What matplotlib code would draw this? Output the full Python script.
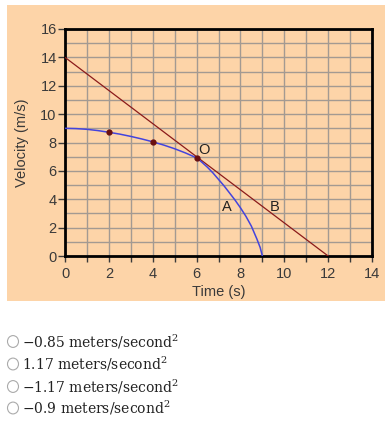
import matplotlib
matplotlib.use("Agg")
import matplotlib.pyplot as plt
from matplotlib.patches import Rectangle, Circle

# ---- data ----
curve_a_t = [0, 0.5, 1, 1.5, 2, 2.5, 3, 3.5, 4, 4.5, 5, 5.5, 6, 6.25, 6.5, 6.75,
             7, 7.25, 7.5, 7.75, 8, 8.25, 8.5, 8.75, 8.9, 9.0]
curve_a_v = [9.0, 8.98, 8.93, 8.84, 8.72, 8.59, 8.43, 8.25, 8.05, 7.82, 7.56, 7.26,
             6.92, 6.6, 6.25, 5.85, 5.4, 4.95, 4.45, 3.95, 3.4, 2.8, 2.1, 1.2, 0.6, 0.0]
line_b_t = [0, 12]
line_b_v = [14, 0]
dots_t = [2, 4, 6]
dots_v = [8.72, 8.05, 6.92]
x_ticks = [0, 2, 4, 6, 8, 10, 12, 14]
y_ticks = [0, 2, 4, 6, 8, 10, 12, 14, 16]
choices = ["\u22120.85 meters/second$^{2}$", "1.17 meters/second$^{2}$",
           "\u22121.17 meters/second$^{2}$", "\u22120.9 meters/second$^{2}$"]

W, H = 392, 421
fig = plt.figure(figsize=(W / 100, H / 100), dpi=100)
fig.patch.set_facecolor("white")
plt.rcParams["mathtext.fontset"] = "dejavuserif"

# orange panel
fig.patches.append(Rectangle((7 / W, 1 - 301 / H), (385 - 7) / W, (301 - 5) / H,
                             transform=fig.transFigure, facecolor="#FDD4A8",
                             edgecolor="none", zorder=-10))

ax = fig.add_axes([65 / W, 1 - 256 / H, (372 - 65) / W, (256 - 29) / H])
ax.set_zorder(1)
ax.set_facecolor("#FDD4A8")
ax.set_xlim(0, 14)
ax.set_ylim(0, 16)
ax.set_xticks(range(0, 15), minor=True)
ax.set_yticks(range(0, 17), minor=True)
ax.set_xticks(x_ticks)
ax.set_yticks(y_ticks)
ax.grid(True, which="both", color="#a39a92", linewidth=1.0)
ax.set_axisbelow(True)
for s in ax.spines.values():
    s.set_linewidth(2.0)
    s.set_color("black")
ax.tick_params(axis="both", which="both", direction="out", colors="#3a3a3a",
               labelsize=10.5, width=1.0)
for lab in ax.get_xticklabels() + ax.get_yticklabels():
    lab.set_family("Liberation Sans")
ax.tick_params(axis="x", which="major", length=4, pad=4)
ax.tick_params(axis="x", which="minor", length=4)
ax.tick_params(axis="y", which="major", length=5, pad=1)
ax.tick_params(axis="y", which="minor", length=0)

ax.plot(line_b_t, line_b_v, color="#8B1A1A", linewidth=0.9, zorder=3)
ax.plot(curve_a_t, curve_a_v, color="#4444DD", linewidth=1.1, zorder=3)
ax.plot(dots_t, dots_v, "o", color="#6B0F0F", markersize=3.5, zorder=4)

for x, y, s in [(6.33, 7.45, "O"), (7.4, 3.45, "A"), (9.55, 3.45, "B")]:
    ax.text(x, y, s, fontsize=10.5, family="Liberation Sans", color="#222222",
            ha="center", va="center")

ax.set_xlabel("Time (s)", fontsize=10.5, family="Liberation Sans", color="#3a3a3a", labelpad=3)
ax.set_ylabel("Velocity (m/s)", fontsize=10.5, family="Liberation Sans", color="#3a3a3a", labelpad=8)

# answer choices
ys = [341.5, 364, 386.5, 408]
for y, txt in zip(ys, choices):
    fig.patches.append(Circle((13 / W, 1 - y / H), 5.5 / W, transform=fig.transFigure,
                              facecolor="white", edgecolor="#aaaaaa", linewidth=0.8))
    fig.text(22 / W, 1 - y / H, txt, fontsize=10, family="DejaVu Serif",
             color="#222222", ha="left", va="center")

fig.savefig("out.png", dpi=100)
